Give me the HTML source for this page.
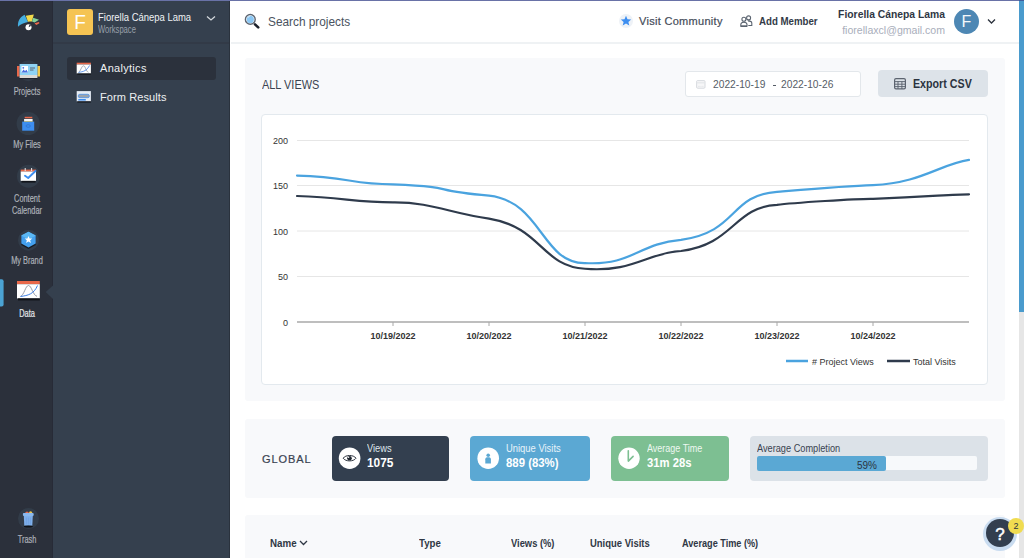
<!DOCTYPE html>
<html><head><meta charset="utf-8">
<style>
*{margin:0;padding:0;box-sizing:border-box}
html,body{width:1024px;height:558px;overflow:hidden;background:#fff;font-family:"Liberation Sans",sans-serif}
.abs{position:absolute}
#topline{left:0;top:0;width:1024px;height:1px;background:rgba(63,74,142,0.78);z-index:10}
#rail{left:0;top:1px;width:53px;height:557px;background:#2b303b}
#side{left:53px;top:1px;width:177px;height:557px;background:#35404e}
#sidesep{left:53px;top:42px;width:177px;height:2px;background:#323a47}
#sideedge{left:229px;top:1px;width:1px;height:557px;background:#2a323d}
#railedge{left:52px;top:1px;width:1px;height:557px;background:#272b37}
.lbl{color:#aeb2b9;font-size:10px;white-space:nowrap;-webkit-text-stroke:0.2px currentColor;transform:scaleX(0.74);transform-origin:center top;text-align:center;width:60px;left:-3px}
.circ{border-radius:50%;background:#343b48}
#header{left:230px;top:1px;width:789px;height:42px;background:#fff}
#hsep{left:231px;top:42px;width:788px;height:2px;background:#eff2f4}
#scroll{left:1019px;top:0;width:5px;height:558px;background:#e6e6e6}
#thumb{left:1019px;top:0;width:5px;height:312px;background:#4a9bcd}
.card{background:#f8f9fb;border-radius:3px}
.txt{white-space:nowrap}
</style></head><body>
<div class="abs" id="topline"></div>
<div class="abs" id="rail"></div>
<div class="abs" id="side"></div>
<div class="abs" id="sidesep"></div>
<div class="abs" id="sideedge"></div>
<div class="abs" id="railedge"></div>

<!-- rail logo -->
<svg class="abs" style="left:10px;top:5px" width="35" height="30" viewBox="10 5 35 30">
 <path d="M18 26.8 C17.5 21 20 17 24.6 14.8 L28 22 C24 22.6 20.5 24.2 18 26.8Z" fill="#45aee0"/>
 <path d="M25.8 15.8 L33.8 14.6 L31.9 21.5 C30.6 21.5 29.2 21.6 28 21.8Z" fill="#f2da4b"/>
 <path d="M33.2 17.8 L39 19.8 L34.6 22.5 C33.7 22.1 32.8 21.8 32 21.6Z" fill="#84d39c"/>
 <path d="M34.5 23.3 L39 22 L39.4 23.3 L36.3 25Z" fill="#ee6b4d"/>
 <circle cx="28.5" cy="27.2" r="3" fill="#fff"/>
 <path d="M28.6 27.2 L29.5 24.6 L31.3 25.8Z" fill="#2b303b"/>
</svg>
<!-- rail items -->
<svg class="abs" style="left:0;top:0" width="53" height="558" viewBox="0 0 53 558">
 <!-- projects -->
 <circle cx="28.4" cy="70.7" r="10.5" fill="#323b48"/>
 <rect x="17" y="66" width="2.6" height="10.5" fill="#e8684a"/>
 <rect x="37.4" y="66" width="2.6" height="10.5" fill="#f2c94c"/>
 <rect x="19.6" y="64" width="17.8" height="11" fill="#8fd3f4"/>
 <rect x="19.6" y="75" width="17.8" height="3" fill="#dcdad5"/>
 <rect x="19.6" y="78" width="17.8" height="0.8" fill="#1d2029"/>
 <rect x="21.5" y="66" width="6.5" height="6.5" fill="#fff"/>
 <path d="M21.5 72.5 L23.5 69.5 L25 71 L26.5 69.8 L28 72.5Z" fill="#4a6ee0"/>
 <circle cx="23.3" cy="67.8" r="0.9" fill="#4a6ee0"/>
 <rect x="30" y="67.5" width="5" height="1" fill="#5b6470"/><rect x="30" y="69.5" width="3.5" height="1" fill="#5b6470"/>
 <!-- my files -->
 <circle cx="28.2" cy="123.5" r="11.6" fill="#323c49"/>
 <rect x="24.7" y="116.8" width="7.6" height="1.5" fill="#e8684a"/>
 <rect x="24.1" y="119" width="8.5" height="2.4" fill="#f4f4f4"/>
 <rect x="24.1" y="121" width="8.5" height="2" fill="#f2c94c"/>
 <rect x="22.2" y="121.6" width="12" height="9.1" fill="#3d8ef0"/>
 <ellipse cx="28.2" cy="126" rx="2.2" ry="1.3" fill="none" stroke="#2f74cf" stroke-width="0.8"/>
 <!-- content calendar -->
 <circle cx="28.5" cy="176.2" r="11.5" fill="#323c49"/>
 <rect x="20.7" y="169.6" width="15.3" height="2" fill="#e8684a"/>
 <rect x="20.7" y="171.5" width="15.3" height="9.4" fill="#fff"/>
 <rect x="21.5" y="180.9" width="14.1" height="1.7" fill="#11141a"/>
 <rect x="24.7" y="168" width="1" height="3" fill="#eee"/><rect x="31.1" y="168" width="1" height="3" fill="#eee"/>
 <path d="M25 175.8 L28.2 178 L35.5 171" stroke="#3d8ef0" stroke-width="1.9" fill="none" stroke-linecap="round" stroke-linejoin="round"/>
 <!-- my brand -->
 <circle cx="28.5" cy="240.2" r="10.5" fill="#323c49"/>
 <path d="M28.5 233 L35.7 237 L35.7 245 L28.5 249 L21.3 245 L21.3 237Z" fill="#101318" opacity="0.8"/>
 <path d="M28.5 231.7 L35.7 235.5 L35.7 243.6 L28.5 247.4 L21.3 243.6 L21.3 235.5Z" fill="#44a0ee"/>
 <path d="M28.5 231.7 L35.7 235.5 L28.5 239.5 L21.3 235.5Z" fill="#5bb8f5"/>
 <path d="M28.5 236 L29.6 238.5 L32.3 238.6 L30.2 240.3 L30.9 243 L28.5 241.5 L26.1 243 L26.8 240.3 L24.7 238.6 L27.4 238.5Z" fill="#fff"/>
 <!-- data -->
 <path d="M0 279.2 H1.6 Q3.6 279.2 3.6 281.2 V304.5 Q3.6 306.5 1.6 306.5 H0Z" fill="#4ba3d4"/>
 <rect x="17" y="281" width="22.8" height="3.2" fill="#e8684a"/>
 <rect x="17" y="284.2" width="22.8" height="14.2" fill="#fff"/>
 <rect x="18" y="298.4" width="21.8" height="2" fill="#0f1217"/>
 <path d="M20.5 296.3 C24 295.5 25.5 285.5 28.5 285.5 C31.5 285.5 33 295.5 37 296.3" stroke="#8a8f9c" stroke-width="0.9" fill="none"/>
 <path d="M20.5 296.5 C28 295.5 34 294 37.5 285.5" stroke="#3d7fe6" stroke-width="1" fill="none"/>
 <path d="M45.7 292.1 L53 285.4 L53 298.9Z" fill="#35404e"/>
 <!-- trash -->
 <circle cx="28.5" cy="518.5" r="10.5" fill="#323c49"/>
 <path d="M24.8 513.2 Q27 509.8 29.3 513.2Z" fill="#e8684a"/>
 <circle cx="30.6" cy="512.8" r="1.6" fill="#f2c94c"/>
 <rect x="22.9" y="513" width="10.8" height="3" rx="1" fill="#8ab8ee"/>
 <path d="M23.8 516 H32.8 L32.3 525.8 H24.3Z" fill="#7fb0ec"/>
 <path d="M26.3 517.5 V524.5 M28.3 517.5 V524.5 M30.3 517.5 V524.5" stroke="#6a9ad8" stroke-width="0.6"/>
 <ellipse cx="28.3" cy="526.6" rx="4.5" ry="1" fill="#0f1217"/>
</svg>
<div class="abs lbl" style="top:86px">Projects</div>
<div class="abs lbl" style="top:139px">My Files</div>
<div class="abs lbl" style="top:192.5px">Content</div>
<div class="abs lbl" style="top:204.5px">Calendar</div>
<div class="abs lbl" style="top:255px">My Brand</div>
<div class="abs lbl" style="top:308px;color:#e6e8eb">Data</div>
<div class="abs lbl" style="top:534px">Trash</div>

<!-- side panel header -->
<div class="abs" style="left:67px;top:9px;width:26px;height:26px;background:#f5c453;border-radius:3px"></div>
<div class="abs txt" style="left:67px;top:9px;width:26px;height:26px;color:#fff;font-size:20px;line-height:27px;text-align:center;transform:scaleX(0.95)">F</div>
<div class="abs txt" style="left:98px;top:11px;color:#f0f2f4;font-size:11px;transform:scaleX(0.86);transform-origin:left top">Fiorella Cánepa Lama</div>
<div class="abs txt" style="left:98px;top:24px;color:#9aa1ab;font-size:10px;transform:scaleX(0.76);transform-origin:left top">Workspace</div>
<svg class="abs" style="left:206px;top:14.7px" width="10" height="7" viewBox="0 0 10 7"><path d="M1 1.5 L5 5 L9 1.5" stroke="#d3d7dc" stroke-width="1.3" fill="none"/></svg>

<div class="abs" style="left:67px;top:57px;width:149px;height:23px;background:#2b313c;border-radius:3px"></div>
<svg class="abs" style="left:0;top:0" width="230" height="120" viewBox="0 0 230 120">
 <rect x="76.7" y="62.7" width="14.2" height="1.8" fill="#e8684a"/>
 <rect x="76.7" y="64.5" width="14.2" height="9" fill="#fff"/>
 <rect x="77.3" y="73.5" width="13.6" height="1.1" fill="#0f1217"/>
 <path d="M78.5 72.3 C80.5 71.8 81.5 65.8 83.5 65.8 C85.5 65.8 86 71.8 88.5 72.3" stroke="#8a8f9c" stroke-width="0.7" fill="none"/>
 <path d="M78.5 72.4 C83.5 71.8 87 70.5 89.5 65.5" stroke="#3d7fe6" stroke-width="0.8" fill="none"/>
 <rect x="76.7" y="91.1" width="14.2" height="10.3" fill="#e6edf5"/>
 <rect x="77.3" y="101.4" width="13.6" height="1.1" fill="#0f1217"/>
 <rect x="78.3" y="94.3" width="11" height="3.4" rx="1.5" fill="#9aa3ad" stroke="#4a90e8" stroke-width="0.8"/>
 <rect x="78.3" y="99" width="7.5" height="1.6" fill="#3d8ef0"/>
</svg>
<div class="abs txt" style="left:100px;top:61.5px;color:#eef0f2;font-size:11px;letter-spacing:0.3px">Analytics</div>

<div class="abs txt" style="left:100px;top:90.5px;color:#eef0f2;font-size:11px;letter-spacing:0.1px">Form Results</div>

<!-- header -->
<div class="abs" id="header"></div>
<div class="abs" id="hsep"></div>
<div class="abs" id="scroll"></div>
<div class="abs" id="thumb"></div>

<!-- header content -->
<svg class="abs" style="left:240px;top:8px" width="25" height="25" viewBox="240 8 25 25">
 <circle cx="250.3" cy="19.4" r="4.9" fill="#fff" stroke="#5b6470" stroke-width="1.4"/>
 <circle cx="250.3" cy="19.4" r="3.6" fill="#8cc8f5"/>
 <path d="M248 17.5 A3 3 0 0 1 249.5 16.3" stroke="#fff" stroke-width="0.9" fill="none"/>
 <path d="M255 24.4 L258.2 27.4" stroke="#1a1f2a" stroke-width="2.6" stroke-linecap="round"/>
</svg>
<div class="abs txt" style="left:268px;top:14px;color:#4a5360;font-size:13px;transform:scaleX(0.91);transform-origin:left top">Search projects</div>

<div class="abs" style="left:619px;top:14px;width:14px;height:14px;border-radius:50%;background:#eef2f7"></div>
<svg class="abs" style="left:620px;top:15px" width="12" height="12" viewBox="0 0 12 12">
 <path d="M6 0.8 L7.5 4.2 L11.2 4.5 L8.4 6.9 L9.3 10.6 L6 8.6 L2.7 10.6 L3.6 6.9 L0.8 4.5 L4.5 4.2Z" fill="#3d8ef0"/>
</svg>
<div class="abs txt" style="left:639px;top:15px;color:#434b58;font-size:11px;letter-spacing:0.3px;-webkit-text-stroke:0.2px #434b58">Visit Community</div>
<svg class="abs" style="left:735px;top:10px" width="25" height="22" viewBox="735 10 25 22">
 <circle cx="743.9" cy="19.3" r="2" fill="none" stroke="#5b6470" stroke-width="1.1"/>
 <circle cx="748.6" cy="17.9" r="2" fill="none" stroke="#5b6470" stroke-width="1.1"/>
 <path d="M740.8 26.3 V24.6 C740.8 23 742 22.2 743.9 22.2 C745.8 22.2 747 23 747 24.6 V26.3Z" fill="none" stroke="#5b6470" stroke-width="1.1"/>
 <path d="M740.8 26.2 H747" stroke="#5b6470" stroke-width="1.6"/>
 <path d="M748 20.9 C750 20.9 751.8 21.6 751.8 23.2 V25.5 H748.3" fill="none" stroke="#5b6470" stroke-width="1.1"/>
</svg>
<div class="abs txt" style="left:759px;top:15px;color:#333b47;font-size:11px;font-weight:bold;transform:scaleX(0.88);transform-origin:left top">Add Member</div>

<div class="abs txt" style="left:745px;top:8px;width:200px;text-align:right;color:#2f3744;font-size:11px;font-weight:bold;transform:scaleX(0.94);transform-origin:right top">Fiorella Cánepa Lama</div>
<div class="abs txt" style="left:745px;top:24px;width:200px;text-align:right;color:#a9aebb;font-size:11px;transform:scaleX(0.96);transform-origin:right top">fiorellaxcl@gmail.com</div>
<div class="abs" style="left:953.6px;top:8.6px;width:25.6px;height:25.6px;border-radius:50%;background:#4d87b4;color:#f4f7fa;font-size:16px;line-height:26px;text-align:center">F</div>
<svg class="abs" style="left:986.6px;top:18.3px" width="9" height="7" viewBox="0 0 9 7"><path d="M1 1.5 L4.5 5 L8 1.5" stroke="#2b323d" stroke-width="1.3" fill="none"/></svg>

<!-- card 1 -->
<div class="abs card" style="left:245px;top:58px;width:760px;height:343px"></div>
<div class="abs txt" style="left:262px;top:78px;color:#3a4351;font-size:12px;transform:scaleX(0.91);transform-origin:left top">ALL VIEWS</div>
<div class="abs" style="left:685px;top:71px;width:176px;height:26px;background:#fff;border:1px solid #e3e7eb;border-radius:3px"></div>
<svg class="abs" style="left:688px;top:72px" width="30" height="24" viewBox="688 72 30 24">
 <rect x="696.6" y="80.6" width="8.4" height="7.6" rx="1" fill="#f7f7f8" stroke="#d3d6db" stroke-width="0.9"/>
 <path d="M696.6 82.8 H705" stroke="#e4e6e9" stroke-width="1.2"/>
 <path d="M698 86.4 H703.6" stroke="#d3d6db" stroke-width="0.6" stroke-dasharray="0.8 0.5"/>
</svg>
<div class="abs txt" style="left:713px;top:77.5px;color:#555c66;font-size:11px;transform:scaleX(0.93);transform-origin:left top">2022-10-19</div>
<div class="abs" style="left:773px;top:85px;width:3px;height:1px;background:#555c66"></div>
<div class="abs txt" style="left:781px;top:77.5px;color:#555c66;font-size:11px;transform:scaleX(0.93);transform-origin:left top">2022-10-26</div>
<div class="abs" style="left:878px;top:70px;width:110px;height:27px;background:#dde3e9;border-radius:4px"></div>
<svg class="abs" style="left:888px;top:72px" width="24" height="24" viewBox="888 72 24 24">
 <rect x="894.6" y="78.6" width="10.8" height="10.3" rx="1.4" fill="none" stroke="#5c6470" stroke-width="1.2"/>
 <path d="M894.6 81.6 H905.4 M894.6 84.2 H905.4 M894.6 86.6 H905.4 M898 81.6 V88.9 M901.9 81.6 V88.9" stroke="#5c6470" stroke-width="0.95"/>
</svg>
<div class="abs txt" style="left:913px;top:77px;color:#2b3340;font-size:12px;font-weight:bold;transform:scaleX(0.89);transform-origin:left top">Export CSV</div>

<div class="abs" style="left:261px;top:114px;width:727px;height:271px;background:#fff;border:1px solid #e3e9ee;border-radius:4px"></div>
<svg class="abs" style="left:262px;top:114px" width="726" height="270" viewBox="262 114 726 270" id="chart">
 <g stroke="#e6e6e6" stroke-width="1">
  <path d="M297 140.5 H969 M297 185.5 H969 M297 231 H969 M297 276.5 H969"/>
 </g>
 <path d="M297 322 H969" stroke="#a8a8a8" stroke-width="1.5"/>
 <path d="M393 322 V326 M489 322 V326 M585 322 V326 M681 322 V326 M777 322 V326 M873 322 V326" stroke="#a8a8a8" stroke-width="1"/>
 <g font-family="Liberation Sans" font-size="9" fill="#333" text-anchor="end">
  <text x="288" y="144">200</text><text x="288" y="189">150</text><text x="288" y="235">100</text><text x="288" y="280">50</text><text x="288" y="326">0</text>
 </g>
 <g font-family="Liberation Sans" font-size="9" font-weight="bold" fill="#333" text-anchor="middle">
  <text x="393" y="339">10/19/2022</text><text x="489" y="339">10/20/2022</text><text x="585" y="339">10/21/2022</text>
  <text x="681" y="339">10/22/2022</text><text x="777" y="339">10/23/2022</text><text x="873" y="339">10/24/2022</text>
 </g>
 <path id="blue" d="M297 175.55 C349.80 176.94 349.80 184.25 393 184.40 C465.00 187.47 421.80 189.85 489 195.61 C541.80 201.35 541.80 263.70 585 263.03 C633.00 265.77 637.80 243.39 681 239.88 C738.60 231.93 729.00 195.09 777 191.89 C791.40 190.71 844.20 185.93 873 185.09 C921.00 183.11 940.20 164.15 969 159.95" stroke="#4aa3df" stroke-width="2.2" fill="none" stroke-linecap="round"/>
 <path id="dark" d="M297 196.02 C345.00 197.73 354.60 202.37 393 202.42 C431.40 202.04 450.60 213.58 489 218.59 C541.80 227.14 541.80 266.59 585 268.74 C633.00 272.66 647.40 252.67 681 250.99 C733.80 244.50 733.80 206.97 777 204.88 C791.40 202.95 858.60 198.49 873 198.88 C945.00 195.48 954.60 194.34 969 194.35" stroke="#2f3b4c" stroke-width="2.2" fill="none" stroke-linecap="round"/>
 <path d="M786 361 H808" stroke="#4aa3df" stroke-width="2.5"/>
 <path d="M887 361 H910" stroke="#2f3b4c" stroke-width="2.5"/>
 <g font-family="Liberation Sans" font-size="9" fill="#333">
  <text x="812" y="365">#  Project Views</text><text x="913" y="365">Total Visits</text>
 </g>
</svg>

<!-- card 2 -->
<div class="abs card" style="left:245px;top:419px;width:760px;height:79px"></div>
<div class="abs txt" style="left:262px;top:453px;color:#3a4351;font-size:11px;letter-spacing:0.9px;-webkit-text-stroke:0.2px #3a4351">GLOBAL</div>
<div class="abs" style="left:332px;top:436px;width:117px;height:45px;background:#333f4f;border-radius:4px"></div>
<svg class="abs" style="left:334px;top:444px" width="30" height="30" viewBox="334 444 30 30">
 <circle cx="349.6" cy="458.2" r="10.8" fill="#fff"/>
 <path d="M343.2 458.2 C345.5 454.6 353.6 454.6 356 458.2 C353.6 461.8 345.5 461.8 343.2 458.2Z" fill="none" stroke="#2a313c" stroke-width="1"/>
 <circle cx="349.5" cy="458.2" r="2.3" fill="#1f2630"/>
 <circle cx="348.6" cy="457.3" r="0.7" fill="#fff"/>
</svg>
<div class="abs txt" style="left:367px;top:442.5px;color:#dfe5ec;font-size:10px;transform:scaleX(0.93);transform-origin:left top">Views</div>
<div class="abs txt" style="left:367px;top:456px;color:#fff;font-size:12.5px;font-weight:bold;transform:scaleX(0.95);transform-origin:left top">1075</div>

<div class="abs" style="left:470px;top:436px;width:120px;height:45px;background:#5ba8d3;border-radius:4px"></div>
<svg class="abs" style="left:474px;top:444px" width="30" height="30" viewBox="474 444 30 30">
 <circle cx="488.2" cy="458.2" r="10.8" fill="#fff"/>
 <circle cx="488.2" cy="455.3" r="1.8" fill="#5ba8d3"/>
 <path d="M485.3 463.6 V459.2 C485.3 457.9 486.3 457.3 488.1 457.3 C489.9 457.3 490.9 457.9 490.9 459.2 V463.6Z" fill="#5ba8d3"/>
</svg>
<div class="abs txt" style="left:506px;top:442.5px;color:#e8f3fa;font-size:10px;transform:scaleX(0.94);transform-origin:left top">Unique Visits</div>
<div class="abs txt" style="left:506px;top:456px;color:#fff;font-size:12.5px;font-weight:bold;transform:scaleX(0.91);transform-origin:left top">889 (83%)</div>

<div class="abs" style="left:611px;top:436px;width:118px;height:45px;background:#7dbf92;border-radius:4px"></div>
<svg class="abs" style="left:614px;top:444px" width="30" height="30" viewBox="614 444 30 30">
 <circle cx="629" cy="458.2" r="10.7" fill="#fff"/>
 <path d="M628.3 450.8 V461.1 L633.1 456.4" stroke="#7dbf92" stroke-width="1.6" fill="none" stroke-linecap="round" stroke-linejoin="round"/>
</svg>
<div class="abs txt" style="left:647px;top:442.5px;color:#eef7f1;font-size:10px;transform:scaleX(0.9);transform-origin:left top">Average Time</div>
<div class="abs txt" style="left:647px;top:456px;color:#fff;font-size:12.5px;font-weight:bold;transform:scaleX(0.9);transform-origin:left top">31m 28s</div>

<div class="abs" style="left:750px;top:436px;width:238px;height:45px;background:#dce2e8;border-radius:4px"></div>
<div class="abs txt" style="left:757px;top:442.5px;color:#3a4351;font-size:10px;transform:scaleX(0.92);transform-origin:left top">Average Completion</div>
<div class="abs" style="left:757px;top:456px;width:220px;height:14px;background:#f7f9fb;border-radius:2px"></div>
<div class="abs" style="left:757px;top:456px;width:129px;height:15px;background:#5aa8d4;border-radius:2px"></div>
<div class="abs txt" style="left:857px;top:459.5px;color:#2b3340;font-size:10px">59%</div>

<!-- card 3 -->
<div class="abs card" style="left:245px;top:515px;width:760px;height:60px"></div>
<div class="abs txt" style="left:270px;top:537px;color:#2f3744;font-size:10.5px;font-weight:bold;transform:scaleX(0.93);transform-origin:left top">Name</div>
<svg class="abs" style="left:299px;top:540px" width="9" height="6" viewBox="0 0 9 6"><path d="M1 1 L4.5 4.5 L8 1" stroke="#2f3744" stroke-width="1.3" fill="none"/></svg>
<div class="abs txt" style="left:419px;top:537px;color:#2f3744;font-size:10.5px;font-weight:bold;transform:scaleX(0.92);transform-origin:left top">Type</div>
<div class="abs txt" style="left:511px;top:537px;color:#2f3744;font-size:10.5px;font-weight:bold;transform:scaleX(0.89);transform-origin:left top">Views (%)</div>
<div class="abs txt" style="left:590px;top:537px;color:#2f3744;font-size:10.5px;font-weight:bold;transform:scaleX(0.9);transform-origin:left top">Unique Visits</div>
<div class="abs txt" style="left:682px;top:537px;color:#2f3744;font-size:10.5px;font-weight:bold;transform:scaleX(0.87);transform-origin:left top">Average Time (%)</div>

<!-- help -->
<div class="abs" style="left:983px;top:517px;width:34px;height:34px;border-radius:50%;background:#c9dcf0"></div>
<div class="abs" style="left:986px;top:519px;width:28px;height:28px;border-radius:50%;background:#333f4f;color:#fff;font-size:17px;line-height:31px;text-align:center;-webkit-text-stroke:0.5px #fff">?</div>
<div class="abs" style="left:1008px;top:518px;width:16px;height:16px;border-radius:50%;background:#f0dc50;color:#2b3340;font-size:9px;line-height:16px;text-align:center">2</div>

</body></html>
